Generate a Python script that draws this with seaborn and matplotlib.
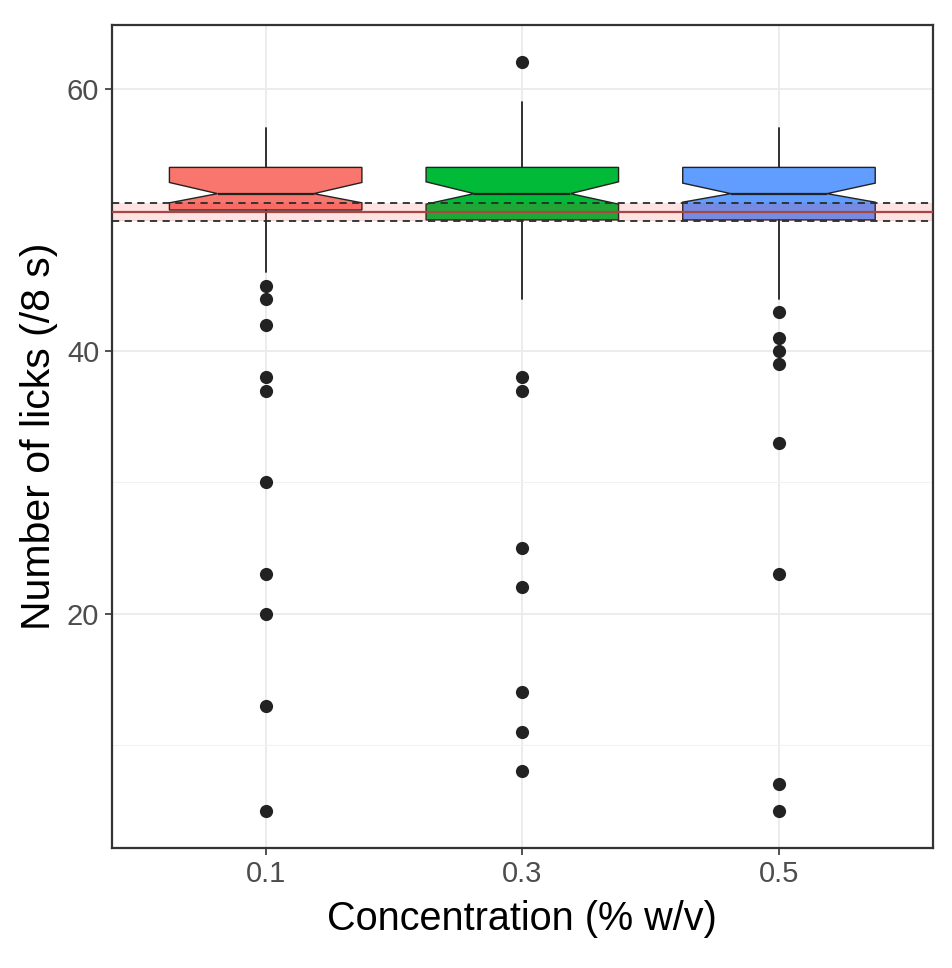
import matplotlib
matplotlib.use("Agg")
import matplotlib.pyplot as plt
import seaborn as sns
import pandas as pd
from matplotlib.ticker import MultipleLocator

# ---- data ----
categories = ["0.1", "0.3", "0.5"]
q1 = [50.75, 50.0, 50.0]
median = [52.0, 52.0, 52.0]
q3 = [54.0, 54.0, 54.0]
whisker_low = [46, 44, 44]
whisker_high = [57, 59, 57]
notch_low = [51.3, 51.2, 51.35]
notch_high = [52.85, 52.9, 52.8]
outliers_01 = [45, 44, 42, 38, 37, 30, 23, 20, 13, 5]
outliers_03 = [62, 38, 37, 25, 22, 14, 11, 8]
outliers_05 = [43, 41, 40, 39, 33, 23, 7, 5]
mean_value = 50.62
mean_ci_low = 49.95
mean_ci_high = 51.3
box_colors = ["#F8766D", "#00BA38", "#619CFF"]
y_ticks = [20, 40, 60]

sns.set_theme(style="whitegrid")
plt.rcParams["font.family"] = ["Liberation Sans", "DejaVu Sans"]

fig = plt.figure(figsize=(9.52, 9.68), dpi=100)
ax = fig.add_axes([0.1173, 0.124, 0.98 - 0.1173, 0.9742 - 0.124])
ax.set_facecolor("white")

stats = []
for i, c in enumerate(categories):
    stats.append(dict(label=c, q1=q1[i], med=median[i], q3=q3[i],
                      whislo=whisker_low[i], whishi=whisker_high[i],
                      cilo=notch_low[i], cihi=notch_high[i], fliers=[]))

bp = ax.bxp(stats, positions=range(len(categories)), widths=0.75,
            shownotches=True, patch_artist=True, showcaps=False,
            showfliers=False, manage_ticks=False,
            boxprops=dict(edgecolor="#222222", linewidth=1.0),
            medianprops=dict(color="#222222", linewidth=1.6),
            whiskerprops=dict(color="#222222", linewidth=1.3))
for patch, col in zip(bp["boxes"], box_colors):
    patch.set_facecolor(col)
    patch.set_zorder(2)
for ln in bp["whiskers"] + bp["medians"]:
    ln.set_zorder(2.1)

out_df = pd.DataFrame({
    "conc": (["0.1"] * len(outliers_01) + ["0.3"] * len(outliers_03)
             + ["0.5"] * len(outliers_05)),
    "licks": outliers_01 + outliers_03 + outliers_05,
})
sns.stripplot(data=out_df, x="conc", y="licks", order=categories,
              jitter=False, color="#222222", size=9.5, linewidth=0,
              ax=ax, zorder=3)

# mean line with confidence band
ax.axhspan(mean_ci_low, mean_ci_high, color="#FF2020", alpha=0.13,
           linewidth=0, zorder=2.5)
ax.axhline(mean_value, color="#A84545", linewidth=1.6, zorder=2.6)
for v in (mean_ci_low, mean_ci_high):
    ax.axhline(v, color="#2a2a2a", linewidth=1.3, linestyle=(0, (4, 3)),
               zorder=2.6)

ax.set_xlim(-0.6, 2.6)
ax.set_ylim(2.15, 64.85)
ax.set_yticks(y_ticks)
ax.yaxis.set_minor_locator(MultipleLocator(10))
ax.set_xticks(range(len(categories)))
ax.set_xticklabels(categories)

ax.grid(which="major", color="#EBEBEB", linewidth=1.3, zorder=0)
ax.grid(which="minor", axis="y", color="#F2F2F2", linewidth=0.8, zorder=0)
ax.set_axisbelow(True)

for s in ax.spines.values():
    s.set_visible(True)
    s.set_color("#333333")
    s.set_linewidth(1.6)

ax.tick_params(axis="both", which="major", length=5, width=1.2,
               color="#333333", labelsize=21, labelcolor="#4D4D4D", pad=4,
               left=True, bottom=True)
ax.tick_params(axis="both", which="minor", length=0)

ax.set_xlabel("Concentration (% w/v)", fontsize=28.5, color="black", labelpad=8)
ax.set_ylabel("Number of licks (/8 s)", fontsize=29.5, color="black", labelpad=6)

fig.savefig("out.png", dpi=100, facecolor="white")
